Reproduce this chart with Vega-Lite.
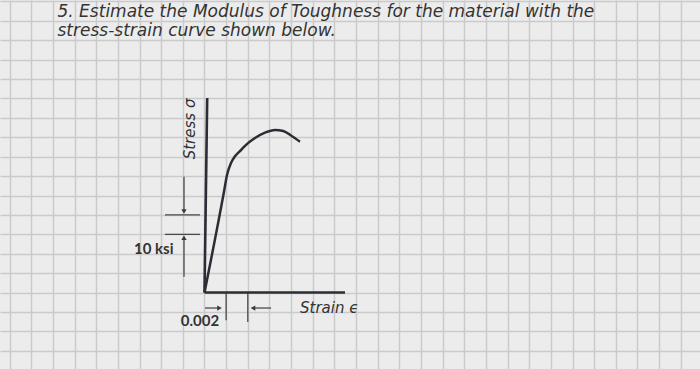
{
  "$schema": "https://vega.github.io/schema/vega-lite/v6.json",
  "width": 700,
  "height": 369,
  "padding": 0,
  "autosize": {"type": "fit", "contains": "padding"},
  "background": "#edecec",
  "config": {"view": {"stroke": null}},
  "datasets": {
    "curve": [
      {"x": 0, "y": 0},
      {"x": 0.001829, "y": 52.84},
      {"x": 0.002079, "y": 60.57},
      {"x": 0.002448, "y": 66.75},
      {"x": 0.002818, "y": 70.2},
      {"x": 0.003372, "y": 73.4},
      {"x": 0.003741, "y": 75.6},
      {"x": 0.004665, "y": 79.6},
      {"x": 0.005589, "y": 82.37},
      {"x": 0.006513, "y": 83.76},
      {"x": 0.007279, "y": 83.25},
      {"x": 0.008055, "y": 80.67},
      {"x": 0.008822, "y": 77.73}
    ],
    "axislines": [
      {"x": 0, "y": 0, "x2": 0.00025, "y2": 100.3},
      {"x": 0, "y": 0, "x2": 0.01298, "y2": 0}
    ],
    "dims": [
      {"x": -0.00365, "y": 40, "x2": -0.00042, "y2": 40},
      {"x": -0.00365, "y": 30, "x2": -0.00042, "y2": 30},
      {"x": -0.001894, "y": 59.7, "x2": -0.001894, "y2": 41.5},
      {"x": -0.001894, "y": 8.1, "x2": -0.001894, "y2": 28.5},
      {"x": 0.002, "y": 0, "x2": 0.002, "y2": -14.3},
      {"x": 0.004, "y": 0, "x2": 0.004, "y2": -15.2},
      {"x": 0.00005, "y": -8, "x2": 0.0014, "y2": -8},
      {"x": 0.00615, "y": -8, "x2": 0.0045, "y2": -8}
    ],
    "heads": [
      {"x": -0.001894, "y": 41.75, "shape": "triangle-down"},
      {"x": -0.001894, "y": 28.25, "shape": "triangle-up"},
      {"x": 0.001386, "y": -8, "shape": "triangle-right"},
      {"x": 0.00448, "y": -8, "shape": "triangle-left"}
    ],
    "title": [
      {"x": -0.01358, "y": 141.86, "text": "5.  Estimate the Modulus of Toughness for the material with the\nstress-strain curve shown below."}
    ]
  },
  "encoding": {
    "x": {
      "field": "x",
      "type": "quantitative",
      "scale": {"domain": [-0.018891, 0.045774], "nice": false, "zero": false},
      "axis": {
        "values": [-0.018, -0.016, -0.014, -0.012, -0.01, -0.008, -0.006, -0.004, -0.002, 0, 0.002, 0.004, 0.006, 0.008, 0.01, 0.012, 0.014, 0.016, 0.018, 0.02, 0.022, 0.024, 0.026, 0.028, 0.03, 0.032, 0.034, 0.036, 0.038, 0.04, 0.042, 0.044],
        "grid": true,
        "gridColor": "#cacaca",
        "gridWidth": 1.5,
        "labels": false,
        "ticks": false,
        "domain": false,
        "title": null
      }
    },
    "y": {
      "field": "y",
      "type": "quantitative",
      "scale": {"domain": [-39.43, 150.77], "nice": false, "zero": false},
      "axis": {
        "values": [-30, -20, -10, 0, 10, 20, 30, 40, 50, 60, 70, 80, 90, 100, 110, 120, 130, 140, 150],
        "grid": true,
        "gridColor": "#cacaca",
        "gridWidth": 1.5,
        "labels": false,
        "ticks": false,
        "domain": false,
        "title": null
      }
    }
  },
  "layer": [
    {
      "data": {"name": "dims"},
      "mark": {"type": "rule", "color": "#4a4a4a", "strokeWidth": 1.3},
      "encoding": {"x2": {"field": "x2"}, "y2": {"field": "y2"}}
    },
    {
      "data": {"name": "heads"},
      "mark": {"type": "point", "filled": true, "color": "#3a3a3a", "size": 28, "opacity": 1},
      "encoding": {"shape": {"field": "shape", "type": "nominal", "scale": null, "legend": null}}
    },
    {
      "data": {"name": "axislines"},
      "mark": {"type": "rule", "color": "#2c2c34", "strokeWidth": 2.6},
      "encoding": {"x2": {"field": "x2"}, "y2": {"field": "y2"}}
    },
    {
      "data": {"name": "curve"},
      "mark": {"type": "line", "color": "#2c2c34", "strokeWidth": 2.5, "interpolate": "monotone"},
      "encoding": {}
    },
    {
      "data": {"name": "title"},
      "mark": {"type": "text", "align": "left", "baseline": "alphabetic", "font": "DejaVu Sans", "fontStyle": "italic", "fontSize": 17, "lineBreak": "\n", "lineHeight": 18.4, "color": "#333333"},
      "encoding": {"text": {"field": "text"}}
    },
    {
      "data": {"values": [{"x": -0.002864, "y": 22.4, "text": "10 ksi"}]},
      "mark": {"type": "text", "align": "right", "baseline": "middle", "font": "Lato", "fontWeight": "bold", "fontSize": 15, "color": "#333333"},
      "encoding": {"text": {"field": "text"}}
    },
    {
      "data": {"values": [{"x": -0.000416, "y": -14.8, "text": "0.002"}]},
      "mark": {"type": "text", "align": "center", "baseline": "middle", "font": "Lato", "fontWeight": "bold", "fontSize": 15, "color": "#333333"},
      "encoding": {"text": {"field": "text"}}
    },
    {
      "data": {"values": [{"x": -0.00134, "y": 84.3, "text": "Stress σ"}]},
      "mark": {"type": "text", "angle": 270, "align": "center", "baseline": "middle", "font": "DejaVu Sans", "fontStyle": "italic", "fontSize": 15, "color": "#333333"},
      "encoding": {"text": {"field": "text"}}
    },
    {
      "data": {"values": [{"x": 0.008822, "y": -8, "text": "Strain ϵ"}]},
      "mark": {"type": "text", "align": "left", "baseline": "middle", "font": "DejaVu Sans", "fontStyle": "italic", "fontSize": 15, "color": "#333333"},
      "encoding": {"text": {"field": "text"}}
    }
  ]
}
